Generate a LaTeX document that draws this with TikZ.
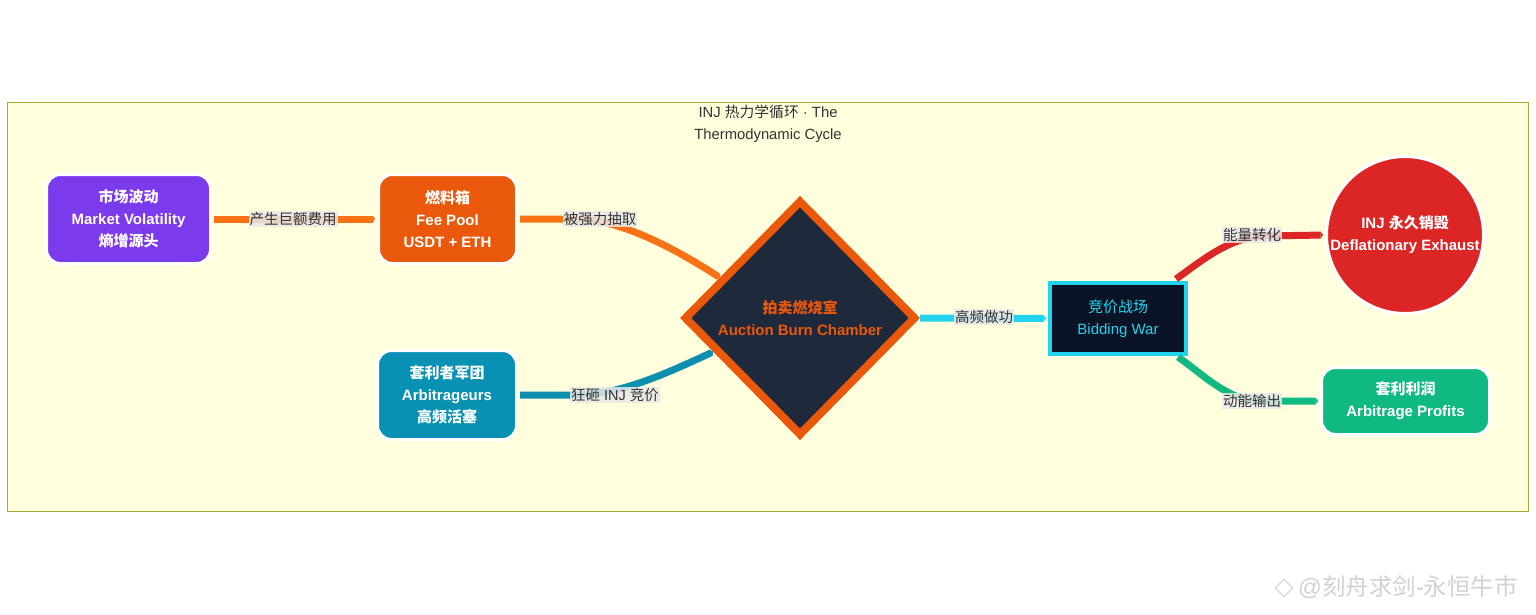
\documentclass[tikz,border=0pt]{standalone}
\usepackage{fontspec}
\setmainfont{Liberation Sans}
\newfontfamily\cjk{Noto Sans CJK SC}
\usetikzlibrary{shapes.geometric,arrows.meta}
\definecolor{frameBg}{HTML}{FFFFDE}
\definecolor{frameLine}{HTML}{AAAA33}
\definecolor{cPurple}{HTML}{7C3AED}
\definecolor{cOrange}{HTML}{EA580C}
\definecolor{cOrangeL}{HTML}{F97316}
\definecolor{cTeal}{HTML}{0891B2}
\definecolor{cTealL}{HTML}{0E8FB0}
\definecolor{cNavy}{HTML}{1E293B}
\definecolor{cDark}{HTML}{0B1426}
\definecolor{cCyan}{HTML}{22D3EE}
\definecolor{cRed}{HTML}{DC2626}
\definecolor{cGreen}{HTML}{10B981}
\definecolor{lblBg}{HTML}{E8E8E8}
\definecolor{txtDark}{HTML}{333333}
\newcommand{\zh}[1]{{\cjk #1}}
\tikzset{
  nodefont/.style={font=\fontsize{15}{22}\selectfont\bfseries},
  rbox/.style={draw=white, line width=3pt, rounded corners=14pt, align=center,
    text=white, nodefont, inner sep=0pt},
  elabel/.style={fill=lblBg, fill opacity=0.85, text opacity=1, text=txtDark,
    font=\fontsize{14.5}{18}\selectfont, inner sep=1pt},
  flow/.style={line width=7pt, shorten >=2pt, -{Triangle[length=2.5pt,width=7pt]}},
}
\begin{document}
\begin{tikzpicture}[x=1pt,y=-1pt]
\useasboundingbox (0,0) rectangle (1536,614);
\fill[white] (0,0) rectangle (1536,614);
% frame
\draw[frameLine, fill=frameBg, line width=0.8pt] (7.5,102.5) rectangle (1528.5,511.5);
\node[align=center, text=txtDark, font=\fontsize{14.8}{22}\selectfont] (title) at (768,124) {INJ \zh{热力学循环} · The\\Thermodynamic Cycle};

% nodes
\node[rbox, fill=cPurple, minimum width=164pt, minimum height=89pt] (A) at (128.5,219) {\zh{市场波动}\\Market Volatility\\\zh{熵增源头}};
\node[rbox, fill=cOrange, minimum width=138pt, minimum height=89pt] (B) at (447.5,219) {\zh{燃料箱}\\Fee Pool\\USDT + ETH};
\node[rbox, fill=cTeal, minimum width=139pt, minimum height=89pt] (C) at (447,395) {\zh{套利者军团}\\Arbitrageurs\\\zh{高频活塞}};
\node[diamond, draw=cOrange, fill=cNavy, line width=8pt, minimum width=232pt, minimum height=236pt, inner sep=0pt,
  align=center, text=cOrange, nodefont] (D) at (800,318) {\zh{拍卖燃烧室}\\Auction Burn Chamber};
\node[rectangle, draw=cCyan, fill=cDark, line width=4pt, minimum width=136pt, minimum height=71pt, inner sep=0pt,
  align=center, text=cCyan, font=\fontsize{15}{22}\selectfont] (E) at (1118,318.5) {\zh{竞价战场}\\Bidding War};
\node[circle, draw=white, fill=cRed, line width=3pt, minimum size=157pt, inner sep=0pt, align=center,
  text=white, nodefont] (F) at (1405,235) {INJ \zh{永久销毁}\\Deflationary Exhaust};
\node[rbox, fill=cGreen, minimum width=168pt, minimum height=67pt] (G) at (1405.5,401) {\zh{套利利润}\\Arbitrage Profits};

% connectors
\coordinate (bd1) at (575,219);
\coordinate (cd1) at (575,395);
\coordinate (ef1) at (1262,236);
\coordinate (eg1) at (1255,401);

\draw[flow, cOrangeL] ([xshift=2pt]A.east) -- (B.west);
\node[elabel] (lab) at (293,219) {\zh{产生巨额费用}};

\draw[flow, cOrangeL] ([xshift=2pt]B.east) -- (bd1) .. controls (615,219) and (665,242) .. (722,279);
\node[elabel] (lbd) at (600,219) {\zh{被强力抽取}};

\draw[flow, cTealL] ([xshift=2pt]C.east) -- (cd1) .. controls (620,395) and (665,374) .. (715,351);
\node[elabel] (lcd) at (615,395) {\zh{狂砸} INJ \zh{竞价}};

\draw[flow, cCyan] (D.east) -- (E.west);
\node[elabel] (lde) at (984,317) {\zh{高频做功}};

\draw[flow, cRed] (1176,279) .. controls (1200,262) and (1228,238) .. (ef1) -- (F.west);
\node[elabel] (lef) at (1252,235) {\zh{能量转化}};

\draw[flow, cGreen] (1178,357) .. controls (1200,372) and (1225,398) .. (eg1) -- (G.west);
\node[elabel] (leg) at (1252,401) {\zh{动能输出}};

% watermark
\node[draw=gray!30, diamond, minimum size=18pt, inner sep=0pt, line width=1.2pt] (logo) at (1284,588) {};
\node[anchor=west, text=gray!35, font=\fontsize{23.5}{26}\selectfont, inner sep=0pt] (wm) at (1298,587) {@\zh{刻舟求剑}-\zh{永恒牛市}};
\end{tikzpicture}
\end{document}
